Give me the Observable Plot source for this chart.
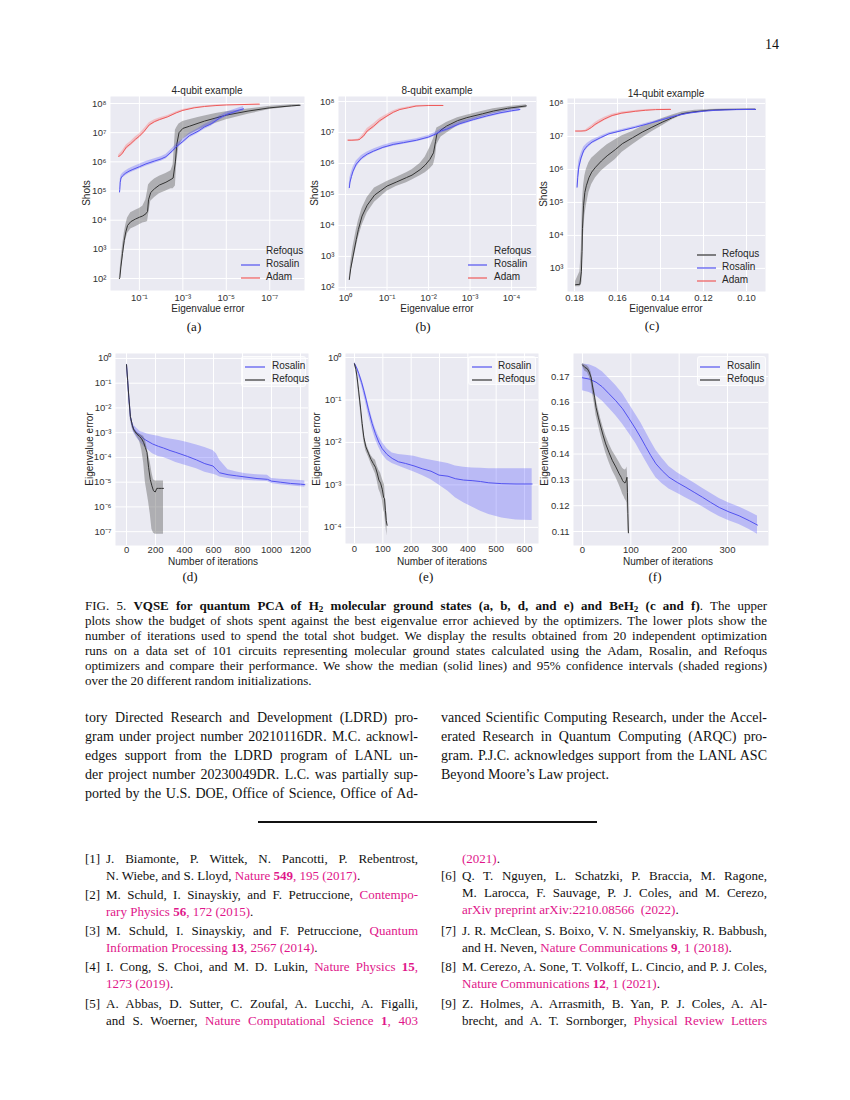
<!DOCTYPE html>
<html><head><meta charset="utf-8">
<script src="https://cdn.jsdelivr.net/npm/d3@7"></script>
<script src="https://cdn.jsdelivr.net/npm/@observablehq/plot@0.6"></script>
<style>
html,body{margin:0;padding:0;background:#fff;}
#page{position:relative;width:850px;height:1100px;overflow:hidden;background:#fff;font-family:"Liberation Serif","DejaVu Serif",serif;color:#111;}
.abs{position:absolute;}
.sans{font-family:"Liberation Sans",Arial,sans-serif;color:#262626;}
.ser{font-family:"Liberation Serif","DejaVu Serif",serif;color:#111;}
.jl{white-space:nowrap;text-align:justify;text-align-last:justify;}
.nl{white-space:nowrap;}
.mag{color:#e0168a;}
sub{font-size:0.7em;vertical-align:-0.25em;line-height:0;}
svg{overflow:visible;}
</style></head>
<body><div id="page"></div>
<script>
// ---------------- DATA ----------------
// (a) 4-qubit: eigenvalue error vs shots
const aRefoqusErr = [0.83,0.79,0.71,0.6,0.5,0.42,0.35,0.25,0.15,0.1,0.07,0.05,0.042,0.038,0.03,0.02,0.012,0.006,0.0035,0.0028,0.0022,0.0019,0.0015,1e-3,5e-4,2e-4,1e-4,3e-5,1e-5,1e-6,1e-7,1e-8,4e-9];
const aRefoqusMed = [1.0e2,1.1e2,2.5e2,7.1e2,2.0e3,4.0e3,6.6e3,8.9e3,1.1e4,1.26e4,1.4e4,1.66e4,2.0e4,5.0e4,8.9e4,1.2e5,1.6e5,2.0e5,2.5e5,2.8e5,1.0e6,4.0e6,1.0e7,1.4e7,1.66e7,2.1e7,2.5e7,3.2e7,4.0e7,5.5e7,7.1e7,8.3e7,8.7e7];
const aRefoqusLo = [0.9e2,0.9e2,1.6e2,4e2,1.1e3,2.2e3,3.5e3,5e3,6e3,7e3,8e3,8.5e3,9e3,1.5e4,4.5e4,6e4,8e4,1e5,1.2e5,1.2e5,1.5e5,1e6,3.5e6,6e6,8.5e6,1.2e7,1.5e7,2.1e7,2.8e7,4.3e7,6.2e7,7.6e7,8.1e7];
const aRefoqusHi = [1.1e2,1.6e2,4e2,1.3e3,3.5e3,7e3,1.2e4,1.8e4,2.2e4,2.5e4,3e4,5e4,1e5,1.6e5,2e5,2.6e5,3.2e5,4e5,5e5,8e5,1.2e7,1.5e7,2e7,2.4e7,2.8e7,3.3e7,3.7e7,4.5e7,5.2e7,6.5e7,8e7,9e7,9.2e7];
const aRosalinErr = [0.82,0.8,0.76,0.7,0.6,0.45,0.3,0.2,0.1,0.05,0.02,0.01,0.006,0.003,0.002,1e-3,5e-4,2e-4,1e-4,5e-5,2e-5,1e-5,5e-6,2.5e-6,1.6e-6];
const aRosalinMed = [9.3e4,1.12e5,2.0e5,2.8e5,3.3e5,4.0e5,4.8e5,5.5e5,6.8e5,8.5e5,1.07e6,1.26e6,1.5e6,2.4e6,3.3e6,5.0e6,7.9e6,1.12e7,1.58e7,2.0e7,3.2e7,4.2e7,5.0e7,6.0e7,6.6e7];
const aRosalinLo = [8.0e4,9.0e4,1.6e5,2.3e5,2.8e5,3.3e5,4.0e5,4.6e5,5.7e5,7.1e5,8.9e5,1.05e6,1.25e6,2.0e6,2.75e6,4.2e6,6.6e6,9.3e6,1.32e7,1.67e7,2.7e7,3.5e7,4.2e7,5.0e7,5.5e7];
const aRosalinHi = [1.05e5,1.4e5,2.5e5,3.4e5,4.0e5,4.8e5,5.8e5,6.6e5,8.2e5,1.02e6,1.28e6,1.5e6,1.8e6,2.9e6,4.0e6,6.0e6,9.5e6,1.35e7,1.9e7,2.4e7,3.8e7,5.0e7,6.0e7,7.2e7,7.9e7];
const aAdamErr = [0.9,0.8,0.6,0.4,0.25,0.15,0.1,0.06,0.035,0.02,0.012,0.005,0.002,1e-3,3e-4,1e-4,3e-5,1e-5,1e-6,3e-7];
const aAdamMed = [1.55e6,1.6e6,2.0e6,3.2e6,4.2e6,6.0e6,7.6e6,1.12e7,1.86e7,2.4e7,2.8e7,3.5e7,4.8e7,5.8e7,7.1e7,7.9e7,8.5e7,8.9e7,9.3e7,9.5e7];
const aAdamLo = [1.4e6,1.4e6,1.7e6,2.6e6,3.5e6,5.0e6,6.4e6,9.5e6,1.6e7,2.1e7,2.5e7,3.2e7,4.4e7,5.4e7,6.7e7,7.6e7,8.2e7,8.7e7,9.1e7,9.3e7];
const aAdamHi = [1.7e6,1.9e6,2.4e6,3.8e6,5.0e6,7.2e6,9.0e6,1.35e7,2.2e7,2.8e7,3.2e7,3.9e7,5.2e7,6.2e7,7.5e7,8.2e7,8.8e7,9.1e7,9.5e7,9.7e7];

// (b) 8-qubit
const bRefoqusErr = [0.81,0.75,0.66,0.55,0.49,0.4,0.3,0.2,0.1,0.06,0.034,0.025,0.016,0.012,0.0093,0.0076,0.0068,0.0063,0.005,0.0037,0.002,0.0012,5e-4,2.75e-4,1.26e-4,4.4e-5];
const bRefoqusMed = [1.8e2,4.0e2,1.0e3,3.5e3,7.4e3,2.0e4,4.5e4,9.5e4,1.86e5,2.5e5,3.5e5,4.2e5,6.3e5,8.9e5,1.35e6,2.2e6,5.0e6,8.9e6,1.2e7,1.6e7,2.4e7,3.0e7,4.0e7,4.9e7,6.0e7,7.2e7];
const bRefoqusLo = [1.6e2,2.8e2,6.3e2,2.0e3,4.0e3,1.0e4,2.5e4,5.6e4,1.26e5,1.8e5,2.4e5,2.9e5,4.0e5,5.0e5,6.6e5,8.9e5,1.6e6,4.0e6,7.1e6,9.5e6,1.66e7,2.2e7,3.2e7,4.0e7,5.0e7,6.3e7];
const bRefoqusHi = [2.0e2,6.3e2,2.0e3,7.1e3,1.4e4,3.5e4,7.9e4,1.6e5,2.6e5,3.5e5,5.0e5,6.3e5,1.0e6,1.6e6,3.2e6,6.3e6,1.0e7,1.4e7,1.66e7,2.1e7,3.0e7,3.6e7,4.8e7,5.8e7,6.8e7,7.9e7];
const bRosalinErr = [0.81,0.78,0.72,0.66,0.55,0.41,0.3,0.21,0.126,0.071,0.04,0.0195,0.01,0.0065,0.005,0.0037,0.0018,8.3e-4,4e-4,1.9e-4,1e-4,6.3e-5];
const bRosalinMed = [1.66e5,2.5e5,3.8e5,5.6e5,9.5e5,1.5e6,2.0e6,2.5e6,3.3e6,4.1e6,4.7e6,5.6e6,7.1e6,9.1e6,1.12e7,1.26e7,1.9e7,2.6e7,3.4e7,4.3e7,5.0e7,5.5e7];
const bRosalinLo = [1.3e5,1.8e5,2.8e5,4.2e5,7.5e5,1.25e6,1.7e6,2.2e6,2.9e6,3.6e6,4.2e6,5.0e6,6.3e6,7.9e6,9.5e6,1.1e7,1.65e7,2.3e7,3.0e7,3.8e7,4.5e7,4.9e7];
const bRosalinHi = [2.2e5,3.5e5,5.2e5,7.4e5,1.2e6,1.8e6,2.35e6,2.9e6,3.8e6,4.7e6,5.3e6,6.3e6,8.0e6,1.05e7,1.3e7,1.45e7,2.2e7,2.9e7,3.8e7,4.8e7,5.6e7,6.1e7];
const bAdamErr = [0.87,0.7,0.5,0.45,0.4,0.37,0.3,0.21,0.15,0.1,0.07,0.049,0.03,0.02,0.01,0.0045];
const bAdamMed = [5.6e6,5.6e6,5.75e6,6.0e6,7.1e6,7.6e6,1.12e7,1.6e7,2.4e7,3.4e7,4.5e7,5.5e7,6.3e7,7.1e7,7.4e7,7.4e7];
const bAdamLo = [5.4e6,5.4e6,5.5e6,5.6e6,6.3e6,6.6e6,9.5e6,1.35e7,2.0e7,3.0e7,4.1e7,5.1e7,6.0e7,6.8e7,7.2e7,7.2e7];
const bAdamHi = [5.8e6,5.8e6,6.0e6,6.6e6,8.0e6,9.0e6,1.35e7,1.9e7,2.8e7,3.9e7,5.0e7,5.9e7,6.7e7,7.4e7,7.6e7,7.6e7];

// (c) 14-qubit
const cRefoqusErr = [0.1795,0.1775,0.1768,0.1765,0.1763,0.1758,0.1752,0.1745,0.1733,0.172,0.1702,0.1675,0.1648,0.161,0.1578,0.153,0.1485,0.144,0.1392,0.1345,0.1299,0.124,0.1175,0.11,0.1,0.0958];
const cRefoqusMed = [3.2e2,3.3e2,7.9e2,3.2e3,1.6e4,7.9e4,2.0e5,3.2e5,5.6e5,8.3e5,1.17e6,1.8e6,2.6e6,4.0e6,6.0e6,9.1e6,1.35e7,1.9e7,2.7e7,3.7e7,4.9e7,5.6e7,6.2e7,6.5e7,6.6e7,6.6e7];
const cRefoqusLo = [2.8e2,2.8e2,3.2e2,4.0e2,1.6e3,1.0e4,4.0e4,7.9e4,2.0e5,3.5e5,5.6e5,8.9e5,1.26e6,2.0e6,3.3e6,5.6e6,8.9e6,1.38e7,2.1e7,3.2e7,4.4e7,5.2e7,5.9e7,6.3e7,6.5e7,6.5e7];
const cRefoqusHi = [4.0e2,7.9e2,4.0e3,3.2e4,1.0e5,3.2e5,6.3e5,1.0e6,1.6e6,2.2e6,2.8e6,4.0e6,5.6e6,7.9e6,1.05e7,1.4e7,2.0e7,2.6e7,3.5e7,4.5e7,5.5e7,6.2e7,6.6e7,6.8e7,6.9e7,6.9e7];
const cRosalinErr = [0.1788,0.1785,0.178,0.177,0.1757,0.174,0.1718,0.168,0.164,0.158,0.1516,0.145,0.1392,0.133,0.1268,0.12,0.1144,0.105,0.0958];
const cRosalinMed = [2.9e5,5.6e5,1.17e6,2.2e6,3.8e6,5.2e6,6.8e6,9.1e6,1.2e7,1.5e7,1.9e7,2.5e7,3.2e7,4.2e7,5.1e7,5.8e7,6.2e7,6.5e7,6.6e7];
const cRosalinLo = [2.5e5,3.5e5,7.0e5,1.6e6,3.0e6,4.4e6,5.9e6,8.1e6,1.1e7,1.38e7,1.78e7,2.35e7,3.0e7,4.0e7,4.9e7,5.6e7,6.0e7,6.3e7,6.4e7];
const cRosalinHi = [3.6e5,9.0e5,1.8e6,3.0e6,4.8e6,6.2e6,7.8e6,1.02e7,1.3e7,1.62e7,2.05e7,2.7e7,3.4e7,4.4e7,5.3e7,6.0e7,6.4e7,6.7e7,6.8e7];
const cAdamErr = [0.1795,0.177,0.175,0.1738,0.172,0.1705,0.1687,0.166,0.1625,0.158,0.1516,0.147,0.1423,0.1353];
const cAdamMed = [1.45e7,1.45e7,1.48e7,1.6e7,1.9e7,2.3e7,2.7e7,3.4e7,4.3e7,5.1e7,5.8e7,6.2e7,6.5e7,6.6e7];
const cAdamLo = [1.4e7,1.4e7,1.42e7,1.48e7,1.7e7,2.0e7,2.4e7,3.0e7,3.9e7,4.7e7,5.4e7,5.9e7,6.3e7,6.4e7];
const cAdamHi = [1.5e7,1.5e7,1.55e7,1.78e7,2.15e7,2.6e7,3.1e7,3.8e7,4.7e7,5.5e7,6.1e7,6.5e7,6.7e7,6.8e7];

// (d) iterations vs eigenvalue error, H2 4-qubit
const dRosalinIter = [0,8,16,27,40,50,70,96,120,141,180,220,255,300,340,369,420,483,540,596,620,642,700,760,824,900,972,1000,1060,1130,1200,1230];
const dRosalinMed = [0.56,0.126,0.0275,0.0044,0.002,0.0014,1.0e-3,7.6e-4,5.6e-4,4.7e-4,3.5e-4,2.8e-4,2.4e-4,1.9e-4,1.6e-4,1.4e-4,1.1e-4,7.9e-5,5.6e-5,4.5e-5,3.2e-5,2.4e-5,2.0e-5,1.8e-5,1.6e-5,1.4e-5,1.3e-5,1.1e-5,1.0e-5,8.9e-6,8.3e-6,7.9e-6];
const dRosalinHi = [0.71,0.158,0.035,0.0063,0.0028,0.002,0.0015,0.0011,1.0e-3,8.9e-4,7.9e-4,7.1e-4,6.3e-4,5.6e-4,5.0e-4,4.7e-4,4.0e-4,3.2e-4,2.5e-4,1.9e-4,1.4e-4,7.9e-5,3.2e-5,2.6e-5,2.2e-5,2.0e-5,1.9e-5,1.4e-5,1.3e-5,1.26e-5,1.17e-5,1.12e-5];
const dRosalinLo = [0.5,0.1,0.02,0.0032,0.0014,1.0e-3,6.3e-4,4.0e-4,2.8e-4,2.2e-4,1.4e-4,1.1e-4,1.0e-4,7.9e-5,6.3e-5,5.6e-5,4.5e-5,3.5e-5,2.5e-5,2.1e-5,1.9e-5,1.6e-5,1.4e-5,1.26e-5,1.2e-5,1.12e-5,1.07e-5,8.9e-6,7.9e-6,7.1e-6,6.6e-6,6.3e-6];
const dRefoqusIter = [0,8,16,27,40,50,70,90,105,118,130,141,152,164,175,186,198,209,220,240,255];
const dRefoqusMed = [0.56,0.126,0.0275,0.0044,0.002,0.0013,8.9e-4,7.1e-4,5.6e-4,4.0e-4,2.5e-4,1.6e-4,4.0e-5,1.26e-5,7.1e-6,4.5e-6,4.0e-6,5.6e-6,5.6e-6,5.6e-6,5.6e-6];
const dRefoqusHi = [0.63,0.14,0.032,0.005,0.0022,0.0015,0.00105,8.9e-4,7.9e-4,7.1e-4,5.0e-4,2.5e-4,1.26e-4,6.3e-5,2.5e-5,1.26e-5,1.12e-5,1.12e-5,1.12e-5,1.12e-5,1.12e-5];
const dRefoqusLo = [0.5,0.112,0.024,0.0035,0.0016,0.0011,7.1e-4,4.5e-4,2.0e-4,6.3e-5,1.0e-5,4.0e-6,1.6e-6,5.0e-7,1.26e-7,8.9e-8,7.9e-8,7.9e-8,7.9e-8,7.9e-8,7.9e-8];

// (e) iterations vs eigenvalue error, H2 8-qubit
const eRosalinIter = [0,8,15,25,33,42,50,62,74,86,98,115,133,155,180,210,239,270,298,330,356,385,415,445,474,520,570,627];
const eRosalinMed = [0.71,0.56,0.42,0.26,0.166,0.095,0.056,0.028,0.016,0.01,0.0071,0.0052,0.0042,0.0035,0.0032,0.0028,0.0024,0.0021,0.0017,0.0016,0.0014,0.0013,0.00126,0.0012,0.00112,0.00107,0.00105,0.00105];
const eRosalinHi = [0.76,0.63,0.48,0.32,0.21,0.126,0.076,0.038,0.021,0.0138,0.01,0.0071,0.0056,0.0052,0.005,0.0047,0.0042,0.0038,0.0035,0.0032,0.0028,0.0026,0.0025,0.00245,0.0024,0.0024,0.0024,0.0024];
const eRosalinLo = [0.66,0.5,0.35,0.22,0.13,0.072,0.042,0.021,0.0117,0.0076,0.0052,0.0038,0.0032,0.0028,0.0024,0.002,0.00166,0.00132,0.001,7.1e-4,5.0e-4,3.8e-4,3.0e-4,2.4e-4,2.0e-4,1.66e-4,1.5e-4,1.45e-4];
const eRefoqusIter = [0,5,9,14,21,27,33,40,50,58,66,74,80,86,92,98,103,106,109,112,115];
const eRefoqusMed = [0.71,0.52,0.35,0.18,0.068,0.028,0.0132,0.0079,0.0054,0.004,0.0032,0.0026,0.0019,0.0013,0.0011,7.9e-4,5.0e-4,4.8e-4,2.5e-4,1.45e-4,1.12e-4];
const eRefoqusHi = [0.76,0.58,0.4,0.21,0.083,0.035,0.0166,0.01,0.0066,0.005,0.0042,0.0038,0.0028,0.0022,0.0019,0.0014,0.00112,0.001,5.0e-4,2.8e-4,2.0e-4];
const eRefoqusLo = [0.66,0.48,0.3,0.15,0.055,0.022,0.0105,0.0063,0.0044,0.0032,0.0024,0.0018,0.00126,7.9e-4,6.3e-4,4.5e-4,2.5e-4,2.2e-4,1.4e-4,8.9e-5,6.3e-5];

// (f) iterations vs eigenvalue error, BeH2 14-qubit
const fRosalinIter = [0,14,28,41,55,69,83,96,110,121,131,141,152,165,179,196,214,231,248,265,283,303,324,345,362];
const fRosalinMed = [0.1695,0.169,0.1678,0.166,0.1633,0.1606,0.1575,0.1538,0.1497,0.1462,0.1428,0.1395,0.1362,0.1335,0.131,0.129,0.1271,0.1252,0.1233,0.1213,0.1193,0.1176,0.1161,0.1142,0.1125];
const fRosalinHi = [0.1748,0.1745,0.1735,0.1718,0.1692,0.1665,0.1633,0.1595,0.1553,0.152,0.1485,0.145,0.1415,0.1383,0.1352,0.1328,0.1307,0.1288,0.1268,0.1248,0.1228,0.121,0.1195,0.1177,0.116];
const fRosalinLo = [0.1645,0.1638,0.1625,0.1605,0.1577,0.1548,0.1515,0.148,0.1442,0.1405,0.1372,0.134,0.1308,0.1285,0.1265,0.1248,0.123,0.1213,0.1196,0.1177,0.1158,0.1142,0.1127,0.1108,0.109];
const fRefoqusIter = [0,5,10,14,18,21,25,28,33,38,43,48,55,62,69,76,80,83,86,88,90,92,93,94,95];
const fRefoqusMed = [0.1745,0.1735,0.173,0.1717,0.1695,0.1659,0.162,0.1581,0.154,0.1504,0.147,0.1439,0.1405,0.1374,0.135,0.1323,0.131,0.1297,0.129,0.1288,0.1295,0.131,0.125,0.117,0.1095];
const fRefoqusHi = [0.175,0.1745,0.1742,0.1733,0.1715,0.1685,0.165,0.1612,0.1572,0.1535,0.1502,0.1473,0.144,0.1412,0.139,0.1368,0.1355,0.1345,0.134,0.1338,0.134,0.135,0.133,0.128,0.124];
const fRefoqusLo = [0.174,0.172,0.1715,0.17,0.1675,0.1632,0.159,0.155,0.151,0.1472,0.1438,0.1405,0.1368,0.1335,0.131,0.128,0.1262,0.1245,0.1235,0.1225,0.122,0.121,0.117,0.111,0.109];

// tick values
const shotTicksAB = [1e2,1e3,1e4,1e5,1e6,1e7,1e8];
const shotTicksC = [1e3,1e4,1e5,1e6,1e7,1e8];
const errTicksA = [1e-1,1e-3,1e-5,1e-7];
const errTicksB = [1,1e-1,1e-2,1e-3,1e-4];
const errTicksC = [0.18,0.16,0.14,0.12,0.10];
const iterTicksD = [0,200,400,600,800,1000,1200];
const iterTicksE = [0,100,200,300,400,500,600];
const iterTicksF = [0,100,200,300];
const errTicksD = [1e0,1e-1,1e-2,1e-3,1e-4,1e-5,1e-6,1e-7];
const errTicksE = [1e0,1e-1,1e-2,1e-3,1e-4];
const errTicksF = [0.11,0.12,0.13,0.14,0.15,0.16,0.17];

// ---------------- RENDER ----------------
const page = document.getElementById("page");
const STYLE = {
  Refoqus: {line: "#333333", band: "#5a5a5a", op: 0.42},
  Rosalin: {line: "#5252f0", band: "#3c3cff", op: 0.28},
  Adam:    {line: "#ee5b5b", band: "#ff4040", op: 0.25}
};
const SUP = {"-":"\u207B","0":"\u2070","1":"\u00B9","2":"\u00B2","3":"\u00B3","4":"\u2074","5":"\u2075","6":"\u2076","7":"\u2077","8":"\u2078","9":"\u2079"};
const powFmt = d => "10" + String(Math.round(Math.log10(d))).split("").map(c => SUP[c]).join("");

function put(html, x, y, cls, css) {
  const d = document.createElement("div");
  d.className = "abs " + (cls || "");
  d.style.left = x + "px"; d.style.top = y + "px";
  if (css) Object.assign(d.style, css);
  d.innerHTML = html;
  page.appendChild(d);
  return d;
}

function panel(p) {
  const ml = 40, mr = 6, mt = 6, mb = 24;
  const [x0, y0, x1, y1] = p.frame;
  const marks = [
    Plot.frame({fill: "#eaeaf2", stroke: "none"}),
    Plot.ruleX(p.xTicks, {stroke: "#ffffff", strokeWidth: 1}),
    Plot.ruleY(p.yTicks, {stroke: "#ffffff", strokeWidth: 1})
  ];
  for (const s of p.series) {
    const rows = s.x.map((v, i) => ({x: v, m: s.med[i], lo: s.lo[i], hi: s.hi[i]}));
    const st = STYLE[s.name];
    marks.push(Plot.areaY(rows, {x: "x", y1: "lo", y2: "hi", fill: st.band, fillOpacity: st.op, clip: true}));
    marks.push(Plot.lineY(rows, {x: "x", y: "m", stroke: st.line, strokeWidth: 1, clip: true}));
  }
  marks.push(Plot.axisX(p.xTicks, {tickFormat: p.xFmt, tickSize: 0, tickPadding: p.xPad, label: null}));
  marks.push(Plot.axisY(p.yTicks, {tickFormat: p.yFmt, tickSize: 0, tickPadding: 4, label: null}));
  const svg = Plot.plot({
    width: (x1 - x0) + ml + mr, height: (y1 - y0) + mt + mb,
    marginLeft: ml, marginRight: mr, marginTop: mt, marginBottom: mb,
    x: p.x, y: p.y,
    style: {fontFamily: "'Liberation Sans', Arial, sans-serif", fontSize: "9.5px", color: "#333", background: "transparent", overflow: "visible"},
    marks
  });
  const wrap = put("", x0 - ml, y0 - mt);
  wrap.appendChild(svg);
}

function legend(items, o) {
  if (o.box) put("", o.box[0], o.box[1], "", {width: (o.box[2]-o.box[0])+"px", height: (o.box[3]-o.box[1])+"px", background: "rgba(255,255,255,0.45)", border: "1px solid rgba(255,255,255,0.7)", borderRadius: "3px", boxSizing: "border-box"});
  items.forEach((it, i) => {
    const cy = o.y + i * o.dy;
    if (it.swatch) put(`<svg width="${o.sw[1]-o.sw[0]}" height="4"><line x1="0" x2="${o.sw[1]-o.sw[0]}" y1="2" y2="2" stroke="${STYLE[it.name].line}" stroke-width="1.2"/></svg>`, o.sw[0], cy - 2, "", {lineHeight: "0"});
    put(it.name, o.tx, cy - 6, "sans nl", {fontSize: "10px", lineHeight: "12px"});
  });
}

panel({frame: [110, 96, 304, 290], x: {type: "log", domain: [10**0.33, 10**-8.6]}, y: {type: "log", domain: [10**1.59, 10**8.24]},
  xTicks: errTicksA, yTicks: shotTicksAB, xFmt: powFmt, yFmt: powFmt, xPad: 4,
  series: [
    {name: "Refoqus", x: aRefoqusErr, med: aRefoqusMed, lo: aRefoqusLo, hi: aRefoqusHi},
    {name: "Rosalin", x: aRosalinErr, med: aRosalinMed, lo: aRosalinLo, hi: aRosalinHi},
    {name: "Adam", x: aAdamErr, med: aAdamMed, lo: aAdamLo, hi: aAdamHi}]});
panel({frame: [338, 96, 536, 290], x: {type: "log", domain: [10**0.169, 10**-4.6]}, y: {type: "log", domain: [10**1.9, 10**8.16]},
  xTicks: errTicksB, yTicks: shotTicksAB, xFmt: powFmt, yFmt: powFmt, xPad: 4,
  series: [
    {name: "Refoqus", x: bRefoqusErr, med: bRefoqusMed, lo: bRefoqusLo, hi: bRefoqusHi},
    {name: "Rosalin", x: bRosalinErr, med: bRosalinMed, lo: bRosalinLo, hi: bRosalinHi},
    {name: "Adam", x: bAdamErr, med: bAdamMed, lo: bAdamLo, hi: bAdamHi}]});
panel({frame: [567, 98, 765, 291], x: {type: "linear", domain: [0.18326, 0.09116]}, y: {type: "log", domain: [10**2.3, 10**8.15]},
  xTicks: errTicksC, yTicks: shotTicksC, xFmt: d3.format(".2f"), yFmt: powFmt, xPad: 3,
  series: [
    {name: "Refoqus", x: cRefoqusErr, med: cRefoqusMed, lo: cRefoqusLo, hi: cRefoqusHi},
    {name: "Rosalin", x: cRosalinErr, med: cRosalinMed, lo: cRosalinLo, hi: cRosalinHi},
    {name: "Adam", x: cAdamErr, med: cAdamMed, lo: cAdamLo, hi: cAdamHi}]});
panel({frame: [115, 353, 308, 545], x: {type: "linear", domain: [-76, 1255]}, y: {type: "log", domain: [10**-7.56, 10**0.2]},
  xTicks: iterTicksD, yTicks: errTicksD, xFmt: d3.format("d"), yFmt: powFmt, xPad: 1,
  series: [
    {name: "Rosalin", x: dRosalinIter, med: dRosalinMed, lo: dRosalinLo, hi: dRosalinHi},
    {name: "Refoqus", x: dRefoqusIter, med: dRefoqusMed, lo: dRefoqusLo, hi: dRefoqusHi}]});
panel({frame: [345, 353, 538, 543], x: {type: "linear", domain: [-31.8, 649.4]}, y: {type: "log", domain: [10**-4.38, 10**0.094]},
  xTicks: iterTicksE, yTicks: errTicksE, xFmt: d3.format("d"), yFmt: powFmt, xPad: 2,
  series: [
    {name: "Rosalin", x: eRosalinIter, med: eRosalinMed, lo: eRosalinLo, hi: eRosalinHi},
    {name: "Refoqus", x: eRefoqusIter, med: eRefoqusMed, lo: eRefoqusLo, hi: eRefoqusHi}]});
panel({frame: [573, 353, 768, 545], x: {type: "linear", domain: [-18.6, 384.8]}, y: {type: "linear", domain: [0.1046, 0.1789]},
  xTicks: iterTicksF, yTicks: errTicksF, xFmt: d3.format("d"), yFmt: d3.format(".2f"), xPad: 1,
  series: [
    {name: "Rosalin", x: fRosalinIter, med: fRosalinMed, lo: fRosalinLo, hi: fRosalinHi},
    {name: "Refoqus", x: fRefoqusIter, med: fRefoqusMed, lo: fRefoqusLo, hi: fRefoqusHi}]});

// titles & axis labels
function ctext(t, cx, cy, w) { return put(t, cx - w/2, cy - 6, "sans", {width: w + "px", textAlign: "center", fontSize: "10px", lineHeight: "12px", whiteSpace: "nowrap"}); }
function rtext(t, cx, cy, w) { return put(t, cx - w/2, cy - 5, "sans", {width: w + "px", height: "10px", textAlign: "center", fontSize: "10px", lineHeight: "10px", whiteSpace: "nowrap", transform: "rotate(-90deg)"}); }
ctext("4-qubit example", 207, 91, 120);
ctext("8-qubit example", 437, 91, 120);
ctext("14-qubit example", 666, 94, 120);
ctext("Eigenvalue error", 208, 309, 120);
ctext("Eigenvalue error", 437, 309, 120);
ctext("Eigenvalue error", 666, 309, 120);
rtext("Shots", 87, 193, 60); rtext("Shots", 315, 193, 60); rtext("Shots", 544, 194, 60);
ctext("Number of iterations", 213, 562, 140);
ctext("Number of iterations", 442, 562, 140);
ctext("Number of iterations", 668, 562, 140);
rtext("Eigenvalue error", 90, 449, 120); rtext("Eigenvalue error", 317, 449, 120); rtext("Eigenvalue error", 545, 449, 120);

// legends
legend([{name: "Refoqus", swatch: false}, {name: "Rosalin", swatch: true}, {name: "Adam", swatch: true}], {y: 251, dy: 13, sw: [241, 260], tx: 266});
legend([{name: "Refoqus", swatch: false}, {name: "Rosalin", swatch: true}, {name: "Adam", swatch: true}], {y: 251, dy: 13, sw: [468, 487], tx: 494});
legend([{name: "Refoqus", swatch: true}, {name: "Rosalin", swatch: true}, {name: "Adam", swatch: true}], {y: 254, dy: 13, sw: [697, 716], tx: 722});
legend([{name: "Rosalin", swatch: true}, {name: "Refoqus", swatch: true}], {y: 366, dy: 12.5, sw: [245, 265], tx: 272, box: [241, 356, 306, 387]});
legend([{name: "Rosalin", swatch: true}, {name: "Refoqus", swatch: true}], {y: 366, dy: 12.5, sw: [472, 492], tx: 498, box: [468, 356, 536, 385]});
legend([{name: "Rosalin", swatch: true}, {name: "Refoqus", swatch: true}], {y: 366, dy: 12.5, sw: [700, 720], tx: 727, box: [697, 356, 766, 386]});

// panel letters
[["(a)", 194, 327], ["(b)", 423, 327], ["(c)", 652, 326], ["(d)", 190, 577], ["(e)", 426, 577], ["(f)", 655, 577]].forEach(([t, cx, cy]) =>
  put(t, cx - 20, cy - 8, "ser", {width: "40px", textAlign: "center", fontSize: "13px", lineHeight: "16px"}));

// page number
put("14", 765, 37, "ser", {fontSize: "14px", lineHeight: "16px"});

// text lines
function tline(html, x, cy, w, size, lh, just) {
  return put(html, x, cy - lh/2, "ser " + (just ? "jl" : "nl"), {width: w + "px", fontSize: size + "px", lineHeight: lh + "px"});
}
const cap = [
  'FIG. 5. <b>VQSE for quantum PCA of H<sub>2</sub> molecular ground states (a, b, d, and e) and BeH<sub>2</sub> (c and f)</b>. The upper',
  'plots show the budget of shots spent against the best eigenvalue error achieved by the optimizers. The lower plots show the',
  'number of iterations used to spend the total shot budget. We display the results obtained from 20 independent optimization',
  'runs on a data set of 101 circuits representing molecular ground states calculated using the Adam, Rosalin, and Refoqus',
  'optimizers and compare their performance. We show the median (solid lines) and 95% confidence intervals (shaded regions)',
  'over the 20 different random initializations.'
];
cap.forEach((t, i) => tline(t, 85, 605 + i * 15, 682, 13, 15, i < cap.length - 1));

const bodyL = [
  'tory Directed Research and Development (LDRD) pro-',
  'gram under project number 20210116DR. M.C. acknowl-',
  'edges support from the LDRD program of LANL un-',
  'der project number 20230049DR. L.C. was partially sup-',
  'ported by the U.S. DOE, Office of Science, Office of Ad-'
];
const bodyR = [
  'vanced Scientific Computing Research, under the Accel-',
  'erated Research in Quantum Computing (ARQC) pro-',
  'gram. P.J.C. acknowledges support from the LANL ASC',
  'Beyond Moore\u2019s Law project.'
];
bodyL.forEach((t, i) => tline(t, 85, 717 + i * 19, 333, 14, 19, true));
bodyR.forEach((t, i) => tline(t, 441, 717 + i * 19, 326, 14, 19, i < bodyR.length - 1));

// rule
put("", 258, 821, "", {width: "339px", height: "1.5px", background: "#111"});

// references
const M = s => '<span class="mag">' + s + '</span>';
const refsL = [
  ["[1]", 'J. Biamonte, P. Wittek, N. Pancotti, P. Rebentrost,', 858, true],
  [null, 'N. Wiebe, and S. Lloyd, ' + M('Nature <b>549</b>, 195 (2017)') + '.', 875, false],
  ["[2]", 'M. Schuld, I. Sinayskiy, and F. Petruccione, ' + M('Contempo-'), 894, true],
  [null, M('rary Physics <b>56</b>, 172 (2015)') + '.', 911, false],
  ["[3]", 'M. Schuld, I. Sinayskiy, and F. Petruccione, ' + M('Quantum'), 930, true],
  [null, M('Information Processing <b>13</b>, 2567 (2014)') + '.', 947, false],
  ["[4]", 'I. Cong, S. Choi, and M. D. Lukin, ' + M('Nature Physics <b>15</b>,'), 966, true],
  [null, M('1273 (2019)') + '.', 983, false],
  ["[5]", 'A. Abbas, D. Sutter, C. Zoufal, A. Lucchi, A. Figalli,', 1003, true],
  [null, 'and S. Woerner, ' + M('Nature Computational Science <b>1</b>, 403'), 1020, true]
];
const refsR = [
  [null, M('(2021)') + '.', 858, false],
  ["[6]", 'Q. T. Nguyen, L. Schatzki, P. Braccia, M. Ragone,', 875, true],
  [null, 'M. Larocca, F. Sauvage, P. J. Coles, and M. Cerezo,', 892, true],
  [null, M('arXiv preprint arXiv:2210.08566 &nbsp;(2022)') + '.', 909, false],
  ["[7]", 'J. R. McClean, S. Boixo, V. N. Smelyanskiy, R. Babbush,', 930, true],
  [null, 'and H. Neven, ' + M('Nature Communications <b>9</b>, 1 (2018)') + '.', 947, false],
  ["[8]", 'M. Cerezo, A. Sone, T. Volkoff, L. Cincio, and P. J. Coles,', 966, true],
  [null, M('Nature Communications <b>12</b>, 1 (2021)') + '.', 983, false],
  ["[9]", 'Z. Holmes, A. Arrasmith, B. Yan, P. J. Coles, A. Al-', 1003, true],
  [null, 'brecht, and A. T. Sornborger, ' + M('Physical Review Letters'), 1020, true]
];
function refs(list, xn, xt, xr) {
  list.forEach(([n, t, cy, j]) => {
    if (n) tline(n, xn, cy, 20, 13, 17, false);
    tline(t, xt, cy, xr - xt, 13, 17, j);
  });
}
refs(refsL, 85, 106, 418);
refs(refsR, 441, 462, 767);
</script>
</body></html>
